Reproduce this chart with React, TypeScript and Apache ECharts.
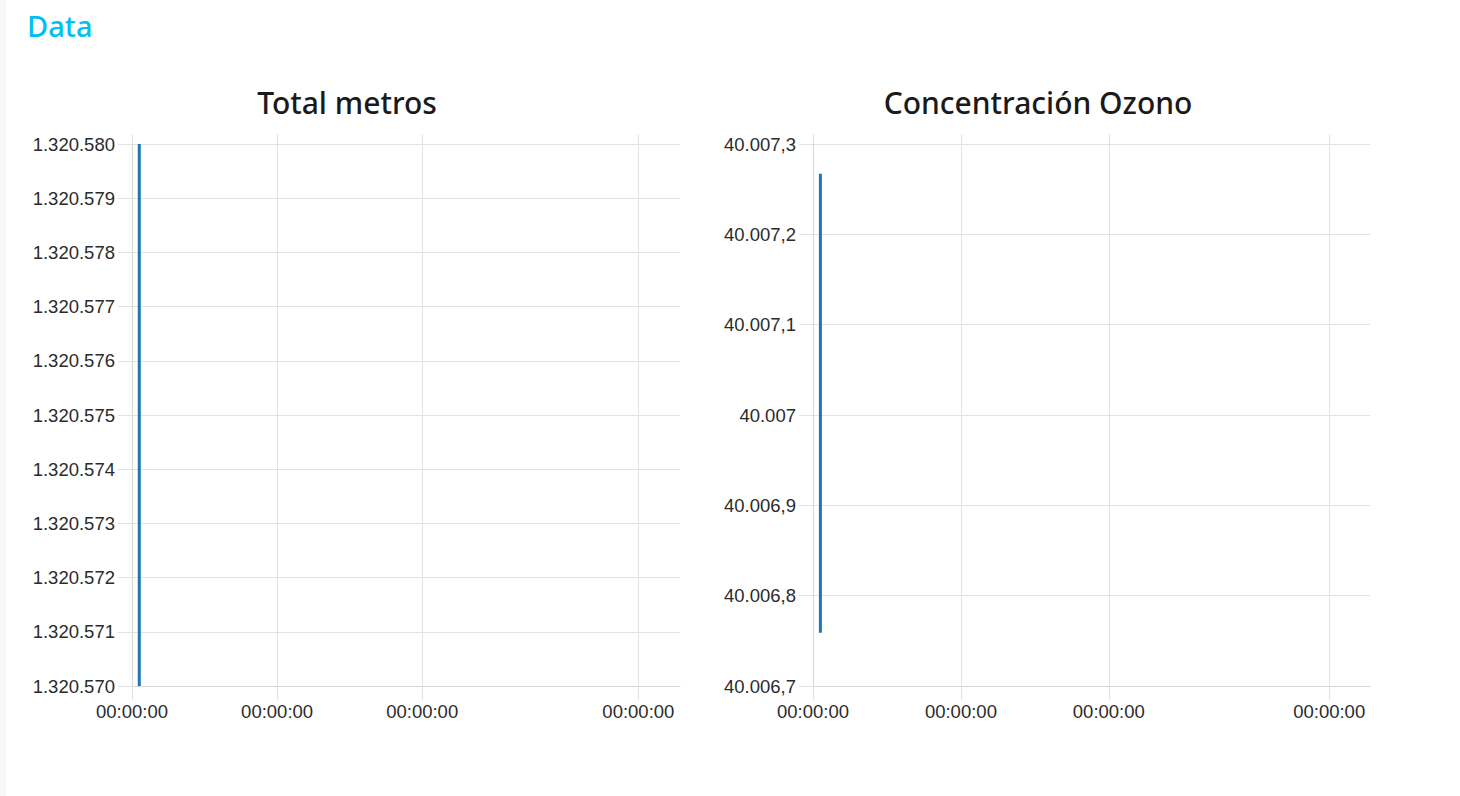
import React, { useEffect, useRef } from "react";
import * as echarts from "echarts";

// ---- data ----
const pageTitle = "Data";
const chartTitles = ["Total metros", "Concentración Ozono"];

// x positions (arbitrary time units) of the time ticks and their labels
const xTicksLeft = [0, 1, 2, 3.49];
const xTicksRight = [0, 1, 2, 3.49];
const xTickLabels = ["00:00:00", "00:00:00", "00:00:00", "00:00:00"];
const xMaxLeft = 3.777;
const xMaxRight = 3.766;

// y ranges
const yLeftMin = 1320570;
const yLeftMax = 1320580;
const yLeftStep = 1;
const yRightMin = 40006.7;
const yRightMax = 40007.3;
const yRightStep = 0.1;

// series values [x, y]
const totalMetrosX = [0.05, 0.05];
const totalMetrosY = [1320570, 1320580];
const ozonoX = [0.05, 0.05];
const ozonoY = [40006.759, 40007.267];

// ---- helpers ----
function fmtEs(v: number, decimals: number): string {
  const fixed = v.toFixed(decimals);
  let [intPart, decPart] = fixed.split(".");
  const neg = intPart.startsWith("-");
  if (neg) intPart = intPart.slice(1);
  const grouped = intPart.replace(/\B(?=(\d{3})+(?!\d))/g, ".");
  let out = (neg ? "-" : "") + grouped;
  if (decPart) {
    const trimmed = decPart.replace(/0+$/, "");
    if (trimmed.length) out += "," + trimmed;
  }
  return out;
}

const GRID_COLOR = "#e2e2e2";
const AXIS_COLOR = "#d6d6d6";
const LABEL_FONT = "'Liberation Sans', Arial, Helvetica, sans-serif";
const LABEL_COLOR = "#2b2b2b";
const LABEL_SIZE = 18.5;

function xAxes(gridIndex: number, ticks: number[], max: number) {
  const labelFor = (value: number) => {
    let best = 0;
    let bd = Infinity;
    ticks.forEach((t, i) => {
      const d = Math.abs(t - value);
      if (d < bd) {
        bd = d;
        best = i;
      }
    });
    return xTickLabels[best];
  };
  return [
    {
      type: "value",
      gridIndex,
      position: "bottom",
      min: 0,
      max,
      axisLine: { show: true, lineStyle: { color: AXIS_COLOR, width: 1 } },
      axisTick: {
        show: true,
        inside: false,
        length: 14,
        customValues: ticks,
        lineStyle: { color: GRID_COLOR },
      },
      axisLabel: {
        show: true,
        customValues: ticks,
        margin: 16,
        fontSize: LABEL_SIZE,
        fontFamily: LABEL_FONT,
        color: LABEL_COLOR,
        formatter: (v: number) => labelFor(v),
        showMinLabel: true,
        showMaxLabel: true,
      },
      splitLine: { show: true, lineStyle: { color: GRID_COLOR, width: 1 } },
    },
    {
      type: "value",
      gridIndex,
      position: "top",
      min: 0,
      max,
      axisLine: { show: false },
      axisTick: {
        show: true,
        inside: false,
        length: 10,
        customValues: ticks,
        lineStyle: { color: GRID_COLOR },
      },
      axisLabel: { show: false },
      splitLine: { show: false },
    },
  ];
}

function yAxis(gridIndex: number, min: number, max: number, step: number, decimals: number) {
  return {
    type: "value",
    gridIndex,
    min,
    max,
    interval: step,
    axisLine: { show: true, lineStyle: { color: AXIS_COLOR, width: 1 } },
    axisTick: { show: true, inside: false, length: 14, lineStyle: { color: GRID_COLOR } },
    axisLabel: {
      margin: 17,
      fontSize: LABEL_SIZE,
      fontFamily: LABEL_FONT,
      color: LABEL_COLOR,
      formatter: (v: number) => fmtEs(v, decimals),
      showMinLabel: true,
      showMaxLabel: true,
    },
    splitLine: { show: true, lineStyle: { color: GRID_COLOR, width: 1 } },
  };
}

export default function App() {
  const ref = useRef<HTMLDivElement>(null);

  useEffect(() => {
    if (!ref.current) return;
    const chart = echarts.init(ref.current, null, { renderer: "svg" });

    const option: any = {
      animation: false,
      backgroundColor: "#f7f7f7",
      graphic: [
        {
          type: "rect",
          left: 6,
          top: 0,
          shape: { x: 0, y: 0, width: 1460, height: 796 },
          style: { fill: "#ffffff" },
          z: -10,
          silent: true,
        },
        {
          type: "text",
          x: 27,
          y: 25,
          style: {
            text: pageTitle,
            fill: "#00bff3",
            font: "500 29px 'Noto Sans', sans-serif",
            textAlign: "left",
            textVerticalAlign: "middle",
          },
        },
        {
          type: "text",
          x: 347,
          y: 102,
          style: {
            text: chartTitles[0],
            fill: "#1a1a1a",
            font: "500 30px 'Noto Sans', sans-serif",
            textAlign: "center",
            textVerticalAlign: "middle",
          },
        },
        {
          type: "text",
          x: 1038,
          y: 102,
          style: {
            text: chartTitles[1],
            fill: "#1a1a1a",
            font: "500 30px 'Noto Sans', sans-serif",
            textAlign: "center",
            textVerticalAlign: "middle",
          },
        },
      ],
      grid: [
        { left: 132, top: 144, width: 548, height: 542 },
        { left: 813, top: 144, width: 557, height: 542 },
      ],
      xAxis: [...xAxes(0, xTicksLeft, xMaxLeft), ...xAxes(1, xTicksRight, xMaxRight)],
      yAxis: [
        yAxis(0, yLeftMin, yLeftMax, yLeftStep, 0),
        yAxis(1, yRightMin, yRightMax, yRightStep, 1),
      ],
      series: [
        {
          type: "line",
          name: chartTitles[0],
          xAxisIndex: 0,
          yAxisIndex: 0,
          data: totalMetrosX.map((x, i) => [x, totalMetrosY[i]]),
          showSymbol: false,
          symbol: "none",
          lineStyle: { color: "#1a78b6", width: 3 },
        },
        {
          type: "line",
          name: chartTitles[1],
          xAxisIndex: 2,
          yAxisIndex: 1,
          data: ozonoX.map((x, i) => [x, ozonoY[i]]),
          showSymbol: false,
          symbol: "none",
          lineStyle: { color: "#1a78b6", width: 3 },
        },
      ],
    };

    chart.setOption(option);
    return () => {
      chart.dispose();
    };
  }, []);

  return (
    <div
      ref={ref}
      style={{ position: "fixed", left: 0, top: 0, width: 1460, height: 796 }}
    />
  );
}
